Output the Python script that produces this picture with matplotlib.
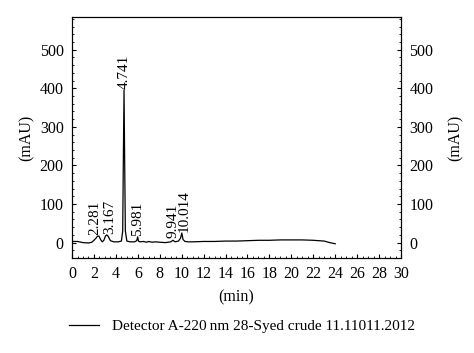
import matplotlib
matplotlib.use('Agg')
import matplotlib.pyplot as plt
from matplotlib.ticker import MultipleLocator

plt.rcParams['font.family'] = 'Liberation Serif'
plt.rcParams['font.size'] = 11.5

# retention time (min) and detector signal (mAU)
time = [0, 0.5, 1.0, 1.5, 1.8, 2.0, 2.2, 2.3, 2.45, 2.6, 2.75, 2.9, 3.05, 3.17,
        3.3, 3.5, 3.8, 4.2, 4.5, 4.62, 4.68, 4.74, 4.8, 4.86, 5.0, 5.3, 5.7,
        5.9, 5.98, 6.06, 6.2, 6.5, 6.8, 7.0, 7.3, 7.6, 8.0, 8.5, 9.0, 9.2,
        9.4, 9.7, 9.9, 10.01, 10.12, 10.3, 10.6, 11, 12, 13, 14, 15, 16, 17,
        18, 19, 20, 21, 22, 22.5, 23, 23.5, 24]
signal = [3, 3, 0, -1, 1, 6, 12, 16, 17, 8, 2, 6, 17, 20,
          16, 5, 2, 2, 4, 30, 220, 395, 210, 30, 4, 2, 2,
          5, 15, 4, 2, 3, 1, 3, 1, 2, 1, 0, 2, 6,
          2, 4, 12, 25, 8, 3, 2, 2, 3, 3, 4, 4, 5, 6,
          6, 7, 7, 7, 6, 5, 4, 0, -3]

peak_times = [2.281, 3.167, 4.741, 5.981, 9.941, 10.014]
peak_heights = [17, 20, 395, 15, 10, 25]
peak_labels = ['2.281', '3.167', '4.741', '5.981', '9.941', '10.014']
label_shift = [-0.2, 0.25, 0.0, 0.0, -0.75, 0.25]

fig = plt.figure(figsize=(4.74, 3.53), dpi=100)
ax = fig.add_axes([0.152, 0.269, 0.694, 0.683])
ax.plot(time, signal, color='black', lw=0.9)

for t, h, lab, dx in zip(peak_times, peak_heights, peak_labels, label_shift):
    ax.text(t + dx, h + 3, lab, rotation=90, ha='center', va='bottom',
            fontsize=11)

ax.set_xlim(0, 30)
ax.set_ylim(-40, 585)
ax.xaxis.set_major_locator(MultipleLocator(2))
ax.xaxis.set_minor_locator(MultipleLocator(0.5))
ax.yaxis.set_major_locator(MultipleLocator(100))
ax.yaxis.set_minor_locator(MultipleLocator(20))
ax.tick_params(which='both', direction='in')
ax.tick_params(which='major', length=3, pad=6)
ax.tick_params(which='minor', length=1.5)
ax.set_xlabel('(min)', labelpad=5)
ax.set_ylabel('(mAU)', labelpad=4)

ax2 = ax.twinx()
ax2.set_ylim(ax.get_ylim())
ax2.yaxis.set_major_locator(MultipleLocator(100))
ax2.yaxis.set_minor_locator(MultipleLocator(20))
ax2.tick_params(which='both', direction='in')
ax2.tick_params(which='major', length=3, pad=6)
ax2.tick_params(which='minor', length=1.5)
ax2.set_ylabel('(mAU)', labelpad=10)

line = ax.get_lines()[0]
fig.legend([line], ['Detector A-220\u2009nm 28-Syed crude 11.11011.2012'],
           loc='center', bbox_to_anchor=(0.51, 0.075), frameon=False,
           handlelength=2.0, handletextpad=0.8, fontsize=11)

fig.savefig('out.png', dpi=100)
